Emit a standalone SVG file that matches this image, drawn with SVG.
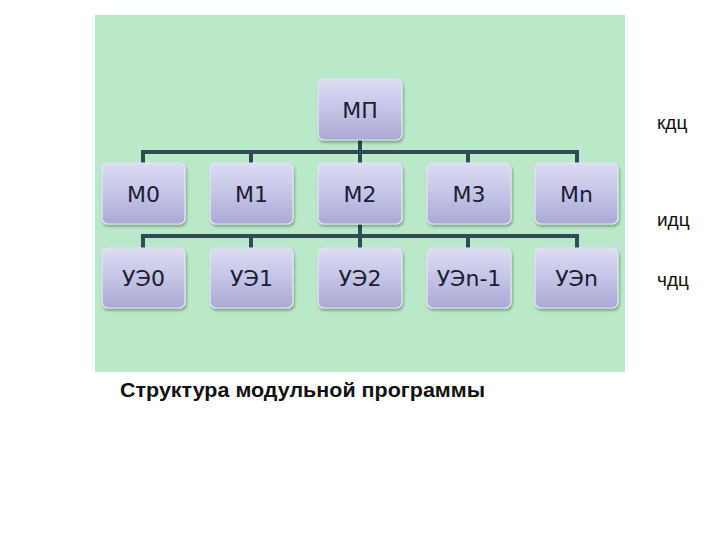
<svg xmlns="http://www.w3.org/2000/svg" width="720" height="540" viewBox="0 0 720 540">
<defs>
<linearGradient id="boxg" x1="0" y1="0" x2="0" y2="1">
<stop offset="0" stop-color="#dcdcf3"/>
<stop offset="0.5" stop-color="#c4c4e6"/>
<stop offset="1" stop-color="#a9a9d6"/>
</linearGradient>
<filter id="sh" x="-10%" y="-10%" width="125%" height="130%">
<feGaussianBlur in="SourceAlpha" stdDeviation="1.5"/>
<feOffset dx="1" dy="2" result="b"/>
<feComponentTransfer><feFuncA type="linear" slope="0.35"/></feComponentTransfer>
<feMerge><feMergeNode/><feMergeNode in="SourceGraphic"/></feMerge>
</filter>
</defs>
<style>
.box{fill:url(#boxg);stroke:#e6e6f4;stroke-width:1.2;filter:url(#sh)}
.lbl{font-family:"DejaVu Sans",Verdana,sans-serif;font-size:22px;fill:#1c1c34;text-anchor:middle}
.side{font-family:"Liberation Sans",Arial,sans-serif;font-size:19px;fill:#111}
.cap{font-family:"Liberation Sans",Arial,sans-serif;font-size:20px;font-weight:bold;fill:#111}
.ln{stroke:#2f4b55;stroke-width:4;fill:none}
</style>
<rect width="720" height="540" fill="#ffffff"/>
<rect x="95" y="15" width="530" height="357" fill="#bae9c9"/>
<g id="connectors">
<path class="ln" d="M360 140 V152 M143 163 V152 H577 V163 M251 152 V163 M468 152 V163 M360 152 V163"/>
<path class="ln" d="M360 224 V236 M143 248 V236 H577 V248 M251 236 V248 M468 236 V248 M360 236 V248"/>
</g>
<g id="MP"><rect class="box" x="318" y="79" width="84" height="61" rx="6"/><text class="lbl" x="360" y="118">МП</text></g>
<g id="M0"><rect class="box" x="102" y="163" width="83" height="61" rx="6"/><text class="lbl" x="143.5" y="202">М0</text></g>
<g id="M1"><rect class="box" x="210" y="163" width="83" height="61" rx="6"/><text class="lbl" x="251.5" y="202">М1</text></g>
<g id="M2"><rect class="box" x="318" y="163" width="84" height="61" rx="6"/><text class="lbl" x="360" y="202">М2</text></g>
<g id="M3"><rect class="box" x="427" y="163" width="84" height="61" rx="6"/><text class="lbl" x="469" y="202">М3</text></g>
<g id="Mn"><rect class="box" x="535" y="163" width="83" height="61" rx="6"/><text class="lbl" x="576.5" y="202">Мn</text></g>
<g id="UE0"><rect class="box" x="102" y="248" width="83" height="60" rx="6"/><text class="lbl" x="143.5" y="286">УЭ0</text></g>
<g id="UE1"><rect class="box" x="210" y="248" width="83" height="60" rx="6"/><text class="lbl" x="251.5" y="286">УЭ1</text></g>
<g id="UE2"><rect class="box" x="318" y="248" width="84" height="60" rx="6"/><text class="lbl" x="360" y="286">УЭ2</text></g>
<g id="UEn-1"><rect class="box" x="427" y="248" width="84" height="60" rx="6"/><text class="lbl" x="469" y="286">УЭn-1</text></g>
<g id="UEn"><rect class="box" x="535" y="248" width="83" height="60" rx="6"/><text class="lbl" x="576.5" y="286">УЭn</text></g>
<text class="side" x="657" y="129">кдц</text>
<text class="side" x="657" y="226">идц</text>
<text class="side" x="657" y="286">чдц</text>
<text class="cap" x="120" y="397" textLength="365" lengthAdjust="spacingAndGlyphs">Структура модульной программы</text>
</svg>
